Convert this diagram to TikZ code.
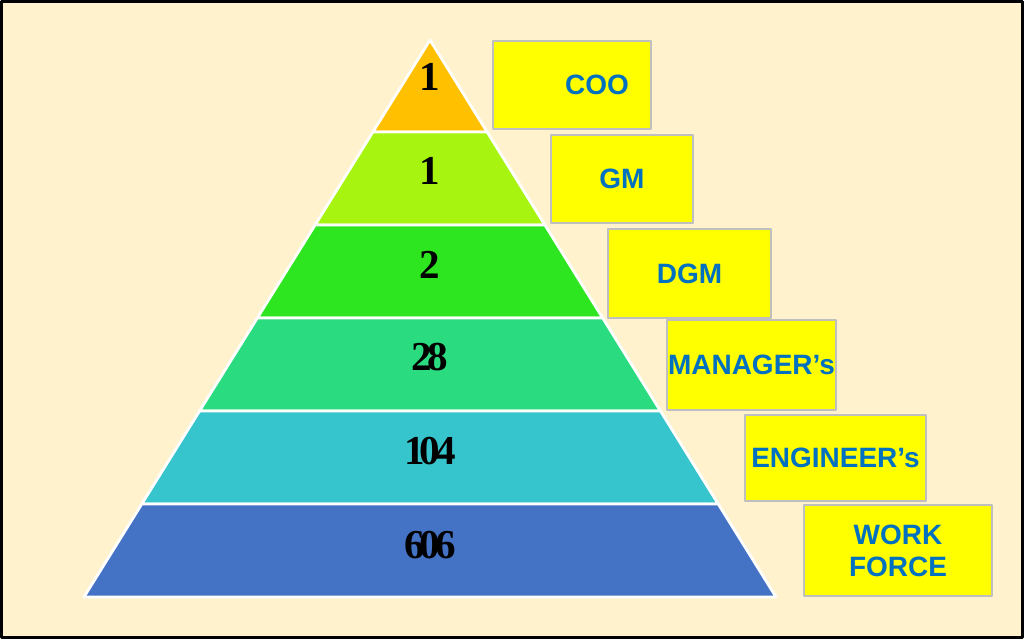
\documentclass[tikz,border=0pt]{standalone}
\usepackage{fontspec}
\newfontfamily\labelfont{Liberation Sans}
\newfontfamily\countfont[LetterSpace=-12]{Liberation Serif}

\begin{document}
\begin{tikzpicture}[x=0.025cm, y=-0.025cm, line join=round]
            % Define Colors matching the slide
            \definecolor{bgcolor}{RGB}{255, 242, 204}   % Cream
            \definecolor{l1color}{RGB}{255, 192, 0}     % Orange
            \definecolor{l2color}{RGB}{166, 244, 15}    % Lime
            \definecolor{l3color}{RGB}{45, 230, 32}     % Green
            \definecolor{l4color}{RGB}{42, 219, 127}    % Sea green
            \definecolor{l5color}{RGB}{54, 196, 205}    % Teal
            \definecolor{l6color}{RGB}{68, 114, 196}    % Blue
            \definecolor{boxyellow}{RGB}{255, 255, 0}
            \definecolor{roleblue}{RGB}{0, 112, 192}
            \definecolor{boxgray}{RGB}{191, 191, 191}

            \tikzset{
                rolebox/.style={draw=boxgray, line width=1pt, fill=boxyellow, inner sep=0pt, align=center,
                        text=roleblue, font=\labelfont\bfseries\fontsize{19.9}{22.8}\selectfont},
                countlabel/.style={inner sep=0pt, text=black, font=\countfont\bfseries\fontsize{29.2}{30}\selectfont}
            }

            % Background and frame
            \useasboundingbox (0,0) rectangle (1024,639);
            \draw[fill=bgcolor, draw=black, line width=0.075cm] (1.5,1.5) rectangle (1022.5,637.5);

            % Pyramid bands (apex at 430,40; half width grows 0.6212 per unit)
            \foreach \t/\b/\col in {40/132/l1color, 132/225/l2color, 225/318/l3color, 318/411/l4color, 411/504/l5color, 504/597/l6color} {
                    \fill[\col, draw=white, line width=2pt] ({430-0.6212*(\t-40)}, \t) -- ({430+0.6212*(\t-40)}, \t) -- ({430+0.6212*(\b-40)}, \b) -- ({430-0.6212*(\b-40)}, \b) -- cycle;
                }

            % Head counts
            \foreach \y/\num [count=\i] in {77/1, 171/1, 265/2, 357/28, 451/104, 545/606} {
                    \node[countlabel] (n\i) at (430, \y) {\num};
                }

            % Role boxes
            \node[rolebox, minimum width=3.95cm, minimum height=2.2cm] (coo) at (572, 85) {\hspace*{1.25cm}COO};
            \node[rolebox, minimum width=3.55cm, minimum height=2.2cm] (gm) at (622, 179) {GM};
            \node[rolebox, minimum width=4.075cm, minimum height=2.225cm] (dgm) at (689.5, 273.5) {DGM};
            \node[rolebox, minimum width=4.225cm, minimum height=2.25cm] (mgr) at (751.5, 365) {MANAGER’s};
            \node[rolebox, minimum width=4.525cm, minimum height=2.15cm] (eng) at (835.5, 458) {ENGINEER’s};
            \node[rolebox, minimum width=4.7cm, minimum height=2.275cm] (wf) at (898, 550.5) {WORK\\FORCE};

        \end{tikzpicture}
\end{document}
